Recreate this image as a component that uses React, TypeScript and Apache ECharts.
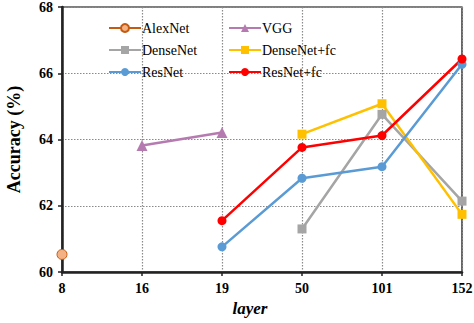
import React, { useEffect, useRef } from "react";
import * as echarts from "echarts";

const layers = ["8", "16", "19", "50", "101", "152"];
const alexNet = [60.53, null, null, null, null, null];
const vgg = [null, 63.82, 64.21, null, null, null];
const denseNet = [null, null, null, 61.3, 64.76, 62.14];
const denseNetFc = [null, null, null, 64.16, 65.08, 61.74];
const resNet = [null, null, 60.76, 62.83, 63.18, 66.27];
const resNetFc = [null, null, 61.55, 63.76, 64.12, 66.43];

const FONT = "'Liberation Serif', 'Times New Roman', serif";

export default function App() {
  const ref = useRef<HTMLDivElement>(null);
  useEffect(() => {
    const chart = echarts.init(ref.current!, undefined, { renderer: "svg" });
    const mk = (name: string, data: (number | null)[], color: string, symbol: string, size: number, fill?: string) => ({
      name,
      type: "line",
      data,
      symbol,
      symbolSize: size,
      showSymbol: true,
      connectNulls: false,
      lineStyle: { color, width: 2.5 },
      itemStyle: { color: fill || color, borderColor: color, borderWidth: fill ? 1 : 0 },
      emphasis: { disabled: true },
    });
    const legendCommon = {
      orient: "vertical",
      top: 16,
      itemWidth: 32,
      itemHeight: 10,
      itemGap: 8,
      textStyle: { fontFamily: FONT, fontSize: 14, color: "#000", padding: [0, 0, 0, -4] },
    };
    chart.setOption({
      animation: false,
      backgroundColor: "#fff",
      grid: {
        left: 62, right: 12, top: 7, bottom: 51,
        outerBoundsMode: "none", containLabel: false,
        show: true, borderColor: "#000", borderWidth: 1.2,
      },
      legend: [
        { ...legendCommon, left: 103, data: ["AlexNet", "DenseNet", "ResNet"] },
        { ...legendCommon, left: 223, data: ["VGG", "DenseNet+fc", "ResNet+fc"] },
      ],
      xAxis: {
        type: "category",
        data: layers,
        boundaryGap: false,
        name: "layer",
        nameLocation: "middle",
        nameGap: 28,
        nameTextStyle: { fontFamily: FONT, fontSize: 17, fontWeight: "bold", fontStyle: "italic", color: "#000", padding: [0, 24, 0, 0] },
        axisLine: { lineStyle: { color: "#222", width: 2.5 } },
        axisTick: { show: true, inside: false, length: 4, lineStyle: { color: "#222", width: 1.5 } },
        axisLabel: { fontFamily: FONT, fontSize: 14, fontWeight: "bold", color: "#000", margin: 9 },
        splitLine: { show: true, lineStyle: { color: "#8a8a8a", type: [1.5, 1.5], width: 1.2 } },
      },
      yAxis: {
        type: "value",
        min: 60,
        max: 68,
        interval: 2,
        name: "Accuracy (%)",
        nameLocation: "middle",
        nameGap: 39,
        nameTextStyle: { fontFamily: FONT, fontSize: 18, fontWeight: "bold", color: "#000" },
        axisLine: { show: true, lineStyle: { color: "#222", width: 2.5 } },
        axisTick: { show: true, inside: false, length: 4, lineStyle: { color: "#222", width: 1.5 } },
        axisLabel: { fontFamily: FONT, fontSize: 14, fontWeight: "bold", color: "#000", margin: 9 },
        splitLine: { show: true, lineStyle: { color: "#8a8a8a", type: [1.5, 1.5], width: 1.2 } },
      },
      series: [
        mk("AlexNet", alexNet, "#C55A11", "circle", 10, "#F4B183"),
        mk("VGG", vgg, "#B57BB0", "triangle", 11),
        mk("DenseNet", denseNet, "#A5A5A5", "rect", 9),
        mk("DenseNet+fc", denseNetFc, "#FFC000", "rect", 9),
        mk("ResNet", resNet, "#5B9BD5", "circle", 9),
        mk("ResNet+fc", resNetFc, "#FF0000", "circle", 9),
      ],
    });
    return () => chart.dispose();
  }, []);
  return <div ref={ref} style={{ width: 474, height: 323, position: "absolute", left: 0, top: 0 }} />;
}
